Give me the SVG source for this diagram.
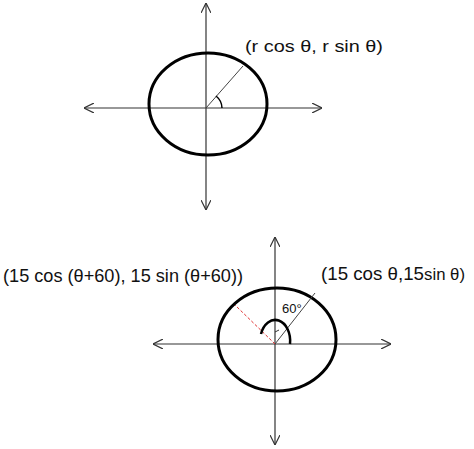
<svg xmlns="http://www.w3.org/2000/svg" width="474" height="449" viewBox="0 0 474 449">
<defs>
<marker id="arr" viewBox="0 0 10 10" refX="10" refY="5" markerWidth="10" markerHeight="10" markerUnits="userSpaceOnUse" orient="auto">
<path d="M0,0 L10,5 L0,10" fill="none" stroke="#333" stroke-width="1.2"/>
</marker>
</defs>
<style>
.axis{stroke:#333;stroke-width:1.2;fill:none;marker-end:url(#arr)}
.circ{fill:none;stroke:#000;stroke-width:3}
.rad{stroke:#444;stroke-width:1;fill:none}
.lbl{font-family:"Liberation Sans",Arial,sans-serif;fill:#111}
</style>
<rect width="474" height="449" fill="#fff"/>
<g id="connectors">
<line class="axis" x1="206" y1="108" x2="206" y2="3"/>
<line class="axis" x1="206" y1="108" x2="206" y2="210"/>
<line class="axis" x1="206" y1="108" x2="84" y2="108"/>
<line class="axis" x1="206" y1="108" x2="322" y2="108"/>
<line class="axis" x1="275" y1="344" x2="275" y2="237"/>
<line class="axis" x1="275" y1="344" x2="275" y2="445"/>
<line class="axis" x1="275" y1="344" x2="153" y2="344"/>
<line class="axis" x1="275" y1="344" x2="391" y2="344"/>
</g>
<g id="top-circle">
<ellipse class="circ" cx="208" cy="104" rx="59" ry="51"/>
<line class="rad" x1="206" y1="108" x2="243" y2="66"/>
<path d="M222,108 A16,16 0 0 0 216,96" fill="none" stroke="#000" stroke-width="1.5"/>
</g>
<g id="top-label">
<text class="lbl" x="245" y="52" font-size="17" textLength="138" lengthAdjust="spacingAndGlyphs">(r cos θ, r sin θ)</text>
</g>
<g id="bottom-circle">
<ellipse class="circ" cx="277" cy="339.5" rx="59" ry="51.5"/>
<line class="rad" x1="275" y1="344" x2="315" y2="293"/>
<line x1="275" y1="344" x2="235" y2="305" stroke="#e03030" stroke-width="1" stroke-dasharray="3,2"/>
<path d="M290,344 A15,21 0 0 0 261,334" fill="none" stroke="#000" stroke-width="2.5"/>
<line x1="275" y1="332" x2="279" y2="330" stroke="#333" stroke-width="1"/>
<text class="lbl" x="282" y="313" font-size="13" fill="#333">60°</text>
</g>
<g id="left-label">
<text class="lbl" x="3" y="282" font-size="19" textLength="240" lengthAdjust="spacingAndGlyphs">(15 cos (θ+60), 15 sin (θ+60))</text>
</g>
<g id="right-label">
<text class="lbl" x="321" y="280" font-size="19" textLength="144" lengthAdjust="spacingAndGlyphs">(15 cos θ,15<tspan font-size="17">sin θ)</tspan></text>
</g>
</svg>
